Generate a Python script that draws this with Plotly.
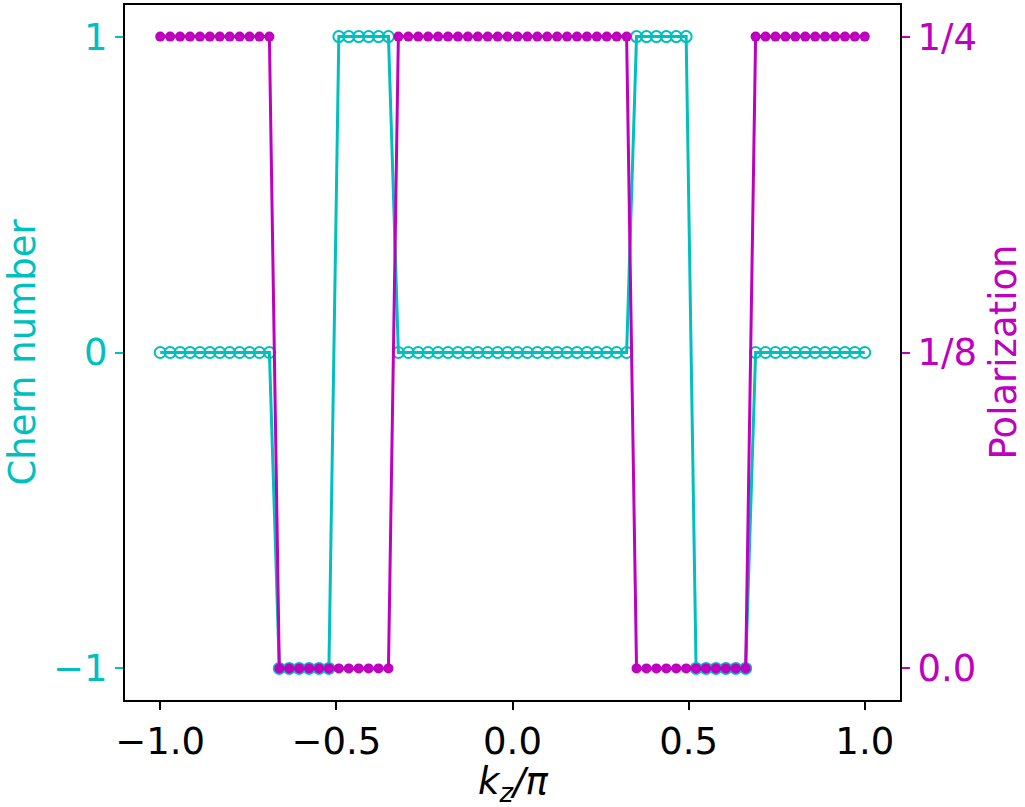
import numpy as np
import plotly.graph_objects as go

# 72 k_z points from -1 to 1
kz = np.linspace(-1, 1, 72)

# Chern number per k_z point
chern = [0] * 12 + [-1] * 6 + [1] * 6 + [0] * 24 + [1] * 6 + [-1] * 6 + [0] * 12
# polarization per k_z point
polar = [0.25] * 12 + [0.0] * 12 + [0.25] * 24 + [0.0] * 12 + [0.25] * 12

x_ticks = [-1.0, -0.5, 0.0, 0.5, 1.0]
x_ticktext = ["\u22121.0", "\u22120.5", "0.0", "0.5", "1.0"]
c_ticks = [-1, 0, 1]
c_ticktext = ["\u22121", "0", "1"]
p_ticks = [0.0, 0.125, 0.25]
p_ticktext = ["0.0", "1/8", "1/4"]

CYAN = "#00bfbf"
MAGENTA = "#bf00bf"
FONT = "DejaVu Sans"
FS = 37

data = [
    go.Scatter(
        x=kz,
        y=chern,
        mode="lines+markers",
        line=dict(color=CYAN, width=3),
        marker=dict(size=11, color=CYAN, symbol="circle-open", line=dict(width=2)),
        yaxis="y",
        showlegend=False,
    ),
    go.Scatter(
        x=kz,
        y=polar,
        mode="lines+markers",
        line=dict(color=MAGENTA, width=3),
        marker=dict(size=10, color=MAGENTA, symbol="circle"),
        yaxis="y2",
        showlegend=False,
    ),
]

axis_common = dict(
    showgrid=False, zeroline=False, showline=True, linecolor="black",
    linewidth=2, ticks="outside", ticklen=8, tickwidth=1.5,
)

layout = go.Layout(
    width=1025,
    height=807,
    margin=dict(l=125, r=125, t=3, b=107),
    plot_bgcolor="white",
    paper_bgcolor="white",
    font=dict(family=FONT, size=FS, color="black"),
    xaxis=dict(
        range=[-1.1, 1.1], tickvals=x_ticks, ticktext=x_ticktext, mirror=True,
        tickcolor="black", tickfont=dict(size=FS, color="black"), **axis_common,
    ),
    yaxis=dict(
        range=[-1.1, 1.1], tickvals=c_ticks, ticktext=c_ticktext,
        tickcolor=CYAN, tickfont=dict(size=FS, color=CYAN), **axis_common,
    ),
    yaxis2=dict(
        range=[-0.0125, 0.2625], tickvals=p_ticks, ticktext=p_ticktext,
        overlaying="y", side="right",
        tickcolor=MAGENTA, tickfont=dict(size=FS, color=MAGENTA), **axis_common,
    ),
    annotations=[
        dict(text="Chern number", xref="paper", yref="paper", x=0, y=0.5,
             xanchor="center", yanchor="middle", xshift=-103, textangle=-90,
             showarrow=False, font=dict(size=FS, color=CYAN, family=FONT)),
        dict(text="Polarization", xref="paper", yref="paper", x=1, y=0.5,
             xanchor="center", yanchor="middle", xshift=103, textangle=-90,
             showarrow=False, font=dict(size=FS, color=MAGENTA, family=FONT)),
        dict(text="<i>k</i><sub><i>z</i></sub><i>/\u03c0</i>", xref="paper", yref="paper",
             x=0.5, y=0, xanchor="center", yanchor="middle", yshift=-84,
             showarrow=False, font=dict(size=FS, color="black", family=FONT)),
    ],
)

fig = go.Figure(data=data, layout=layout)
fig.write_html("out.html", config={"displayModeBar": False},
               post_script="document.body.style.margin='0';")
